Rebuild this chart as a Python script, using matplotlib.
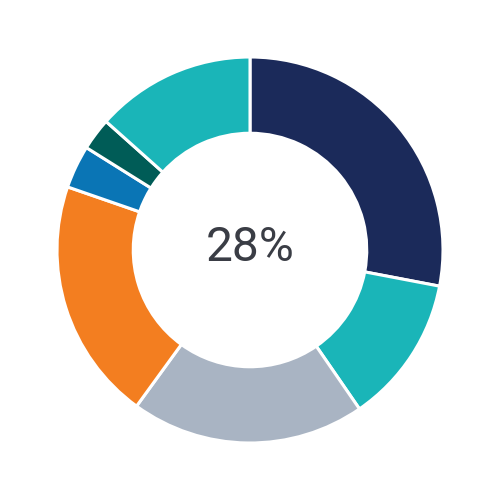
import matplotlib

matplotlib.use("Agg")
import matplotlib.pyplot as plt  # noqa: E402

shares = [28.0, 12.4, 19.6, 20.3, 3.6, 2.7, 13.4]
colors = ["#1b2a5a", "#1ab5b8", "#a9b4c3", "#f37e20", "#0a75b5", "#005c57", "#1ab5b8"]
center_label = "28%"

fig = plt.figure(figsize=(5, 5), dpi=100)
ax = fig.add_axes([0, 0, 1, 1])
ax.pie(shares, colors=colors, startangle=90, counterclock=False, radius=1.0,
       wedgeprops=dict(width=0.395, edgecolor="white", linewidth=2.2))
ax.text(0, 0.01, center_label, ha="center", va="center", fontsize=34.5,
        family=["Roboto", "DejaVu Sans"], color="#3a3d45")
lim = 250 / 193
ax.set_xlim(-lim, lim)
ax.set_ylim(-lim, lim)
ax.set_aspect("equal")
ax.axis("off")
fig.savefig("out.png", dpi=100, facecolor="white")
